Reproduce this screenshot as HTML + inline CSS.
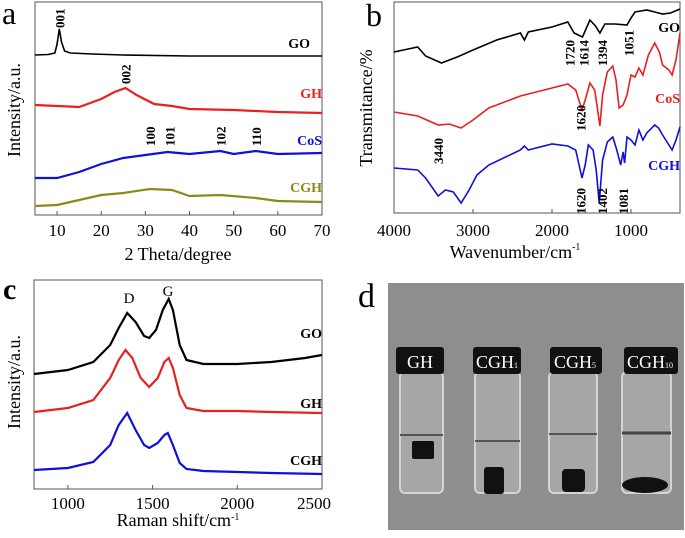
<!DOCTYPE html>
<html><head><meta charset="utf-8"><style>
html,body{margin:0;padding:0;background:#fff}
svg{display:block;font-family:"Liberation Serif",serif}
</style></head><body>
<svg id="fig" width="685" height="538" viewBox="0 0 685 538" xmlns="http://www.w3.org/2000/svg">
<g id="pa"></g>
<g id="pb"></g>
<g id="pc"></g>
<g id="pd">
  <rect x="388" y="283" width="296" height="247" fill="#8e8e8e"/>
</g>
</svg>
<script>
// ---------- Panel a data ----------
const aTicks=[10,20,30,40,50,60,70];
const aGO=[[5,55],[8,54.5],[9.5,53],[10,44],[10.5,29],[11,42],[11.7,51],[13,53],[18,54],[25,55],[40,56],[70,56]];
const aGH=[[5,105],[10,106],[15,107],[20,99],[23,92],[25.5,88],[28,95],[32,104],[36,106],[40,109],[50,110],[60,112],[70,113]];
const aCoS=[[5,178],[10,178],[15,172],[20,164],[25,158],[30,155],[35,152],[40,154],[47,151],[50,154],[55,151],[60,154],[70,153]];
const aCGH=[[5,206],[10,205],[15,200],[20,195],[25,193],[31,189],[36,190],[40,196],[47,195],[55,198],[60,201],[70,202]];
// ---------- Panel b data ----------
const bTicks=[4000,3000,2000,1000];
const bGO=[[4000,52],[3700,47],[3600,56],[3400,63],[3200,57],[3000,50],[2700,40],[2400,33],[2350,40],[2300,32],[2000,27],[1800,22],[1720,33],[1614,37],[1520,20],[1450,26],[1394,33],[1330,24],[1200,24],[1051,25],[1000,18],[950,12],[800,10],[700,12],[600,14],[500,13],[380,9]];
const bCoS=[[4000,112],[3700,116],[3440,125],[3300,124],[3150,128],[3000,120],[2800,108],[2400,96],[2000,88],[1800,84],[1700,90],[1620,110],[1580,100],[1520,83],[1460,90],[1440,100],[1394,126],[1360,95],[1300,72],[1230,66],[1190,80],[1150,108],[1100,105],[1050,95],[1000,75],[950,77],[900,68],[850,75],[780,55],[700,43],[640,52],[600,65],[520,70],[480,75],[430,60],[380,33]];
const bCGH=[[4000,168],[3700,170],[3600,178],[3440,196],[3350,190],[3250,192],[3150,203],[3050,190],[2950,175],[2800,165],[2400,150],[2350,146],[2300,150],[2000,144],[1800,146],[1700,150],[1620,178],[1580,165],[1540,145],[1480,150],[1440,170],[1402,203],[1360,160],[1300,142],[1230,137],[1180,150],[1130,165],[1100,152],[1081,163],[1050,137],[1000,140],[950,145],[900,130],[850,140],[800,133],[700,125],[650,128],[600,135],[520,145],[480,150],[430,140],[380,127]];
// ---------- Panel c data ----------
const cTicks=[1000,1500,2000,2500];
const cGO=[[800,374],[1000,370],[1150,362],[1250,345],[1300,328],[1350,313],[1400,322],[1450,336],[1480,338],[1520,330],[1560,310],[1595,299],[1620,310],[1660,345],[1700,360],[1800,364],[2000,364],[2200,362],[2400,358],[2500,355]];
const cGH=[[800,412],[1000,408],[1150,400],[1250,378],[1300,360],[1340,350],[1380,358],[1430,378],[1480,387],[1530,378],[1570,362],[1595,358],[1620,368],[1660,395],[1700,408],[1800,411],[2000,411],[2200,412],[2500,413]];
const cCGH=[[800,470],[1000,468],[1150,462],[1250,445],[1300,425],[1350,413],[1400,430],[1450,445],[1480,448],[1530,443],[1570,435],[1590,433],[1620,445],[1660,463],[1700,469],[1800,471],[2000,472],[2200,473],[2500,474]];

const NS="http://www.w3.org/2000/svg";
function mk(parent,tag,attrs,text){const e=document.createElementNS(NS,tag);for(const k in attrs)e.setAttribute(k,attrs[k]);if(text!==undefined)e.textContent=text;parent.appendChild(e);return e;}
function pathD(pts,xf){return pts.map((p,i)=>(i?'L':'M')+xf(p[0]).toFixed(1)+','+p[1]).join('');}

// panel a
const ax=v=>35+(v-5)*287/65;
const pa=document.getElementById('pa');
let r=mk(pa,'rect',{x:35,y:2,width:287,height:213,fill:'none',stroke:'#555','stroke-width':1});


[[aGO,'#000','GO',43,310],[aGH,'#e8211f','GH',93,322],[aCoS,'#1010d8','CoS',140,322],[aCGH,'#8a8a1a','CGH',187,322]].forEach(s=>{
 let p=mk(pa,'path',{d:pathD(s[0],ax),fill:'none',stroke:s[1],'stroke-width':s[2]=='GO'?1.6:2.2});
 
 
 let t=mk(pa,'text',{x:s[4],y:s[3]+5,'text-anchor':'end','font-size':14,'font-weight':'bold',fill:s[1]},s[2]);
 
 
});
aTicks.forEach(v=>{
 let l=mk(pa,'line',{x1:ax(v),x2:ax(v),y1:215,y2:211,stroke:'#555'});
 
 
 let t=mk(pa,'text',{x:ax(v),y:236,'text-anchor':'middle','font-size':17},v);
 
 
});
[['001',10.5,28],['002',25.5,84],['100',31,146],['101',35.5,146],['102',47,146],['110',55,146]].forEach(pk=>{
 let t=mk(pa,'text',{x:0,y:0,transform:`translate(${ax(pk[1])+5},${pk[2]}) rotate(-90)`,'font-size':13,'font-weight':'bold'},pk[0]);
 
 
});
// panel b
const bx=v=>394+(4000-v)*0.079;
const pb=document.getElementById('pb');
r=mk(pb,'rect',{x:394,y:2,width:286,height:211,fill:'none',stroke:'#555','stroke-width':1});


[[bGO,'#000','GO',27],[bCoS,'#e8211f','CoS',98],[bCGH,'#1010d8','CGH',165]].forEach(s=>{
 let p=mk(pb,'path',{d:pathD(s[0],bx),fill:'none',stroke:s[1],'stroke-width':1.6});
 
 
 let t=mk(pb,'text',{x:680,y:s[3]+5,'text-anchor':'end','font-size':14,'font-weight':'bold',fill:s[1]},s[2]);
 
 
});
bTicks.forEach(v=>{
 let l=mk(pb,'line',{x1:bx(v),x2:bx(v),y1:213,y2:209,stroke:'#555'});
 
 
 let t=mk(pb,'text',{x:bx(v),y:236,'text-anchor':'middle','font-size':17},v);
 
 
});
[['1720',1780,66],['1614',1600,66],['1394',1370,66],['1051',1030,56],['1620',1640,131],['3440',3440,164],['1620',1640,214],['1402',1370,214],['1081',1100,214]].forEach(pk=>{
 let t=mk(pb,'text',{x:0,y:0,transform:`translate(${bx(pk[1])+5},${pk[2]}) rotate(-90)`,'font-size':13,'font-weight':'bold'},pk[0]);
 
 
});
// panel c
const cx=v=>34+(v-800)*288/1700;
const pc=document.getElementById('pc');
r=mk(pc,'rect',{x:34,y:280,width:288,height:209,fill:'none',stroke:'#555','stroke-width':1});


[[cGO,'#000','GO',333],[cGH,'#e8211f','GH',403],[cCGH,'#1010d8','CGH',460]].forEach(s=>{
 let p=mk(pc,'path',{d:pathD(s[0],cx),fill:'none',stroke:s[1],'stroke-width':2.2});
 
 
 let t=mk(pc,'text',{x:322,y:s[3]+5,'text-anchor':'end','font-size':14,'font-weight':'bold',fill:'#000'},s[2]);
 
 
});
cTicks.forEach(v=>{
 let l=mk(pc,'line',{x1:cx(v),x2:cx(v),y1:489,y2:485,stroke:'#555'});
 
 
 let t=mk(pc,'text',{x:cx(v)-(v==2500?8:0),y:509,'text-anchor':'middle','font-size':17},v);
 
 
});
</script>
<svg width="685" height="538" viewBox="0 0 685 538" style="position:absolute;left:0;top:0" xmlns="http://www.w3.org/2000/svg">
<g font-family="Liberation Serif, serif">
<text x="2" y="24" font-size="32">a</text>
<text x="178" y="260" font-size="18" text-anchor="middle">2 Theta/degree</text>
<text transform="translate(20,110) rotate(-90)" font-size="18" text-anchor="middle">Intensity/a.u.</text>
<text x="366" y="26" font-size="32">b</text>
<text x="515" y="258" font-size="18" text-anchor="middle">Wavenumber/cm<tspan font-size="10" dy="-8">-1</tspan></text>
<text transform="translate(372,108) rotate(-90)" font-size="18" text-anchor="middle">Transmitance/%</text>
<text x="3" y="299" font-size="30" font-weight="bold">c</text>
<text x="129" y="303" font-size="15" text-anchor="middle">D</text>
<text x="168" y="296" font-size="15" text-anchor="middle">G</text>
<text x="178" y="526" font-size="18" text-anchor="middle">Raman shift/cm<tspan font-size="10" dy="-6">-1</tspan></text>
<text transform="translate(20,382) rotate(-90)" font-size="18" text-anchor="middle">Intensity/a.u.</text>
<text x="358" y="307" font-size="34">d</text>
</g>
<g font-family="Liberation Serif, serif">
 <g>
  <rect x="400" y="372" width="43" height="121" rx="5" fill="#a6a6a6" stroke="#d4d4d4" stroke-width="2"/>
  <line x1="400" y1="435" x2="443" y2="435" stroke="#555" stroke-width="2"/>
  <rect x="412" y="441" width="22" height="18" rx="2" fill="#111"/>
  <rect x="396" y="347" width="48" height="27" rx="3" fill="#111"/>
  <text x="420" y="368" font-size="18" fill="#fff" text-anchor="middle">GH</text>
 </g>
 <g>
  <rect x="475" y="372" width="45" height="121" rx="5" fill="#a6a6a6" stroke="#d4d4d4" stroke-width="2"/>
  <line x1="475" y1="441" x2="520" y2="441" stroke="#555" stroke-width="2"/>
  <rect x="484" y="467" width="20" height="27" rx="3" fill="#111"/>
  <rect x="473" y="347" width="48" height="27" rx="3" fill="#111"/>
  <text x="497" y="368" font-size="18" fill="#fff" text-anchor="middle">CGH<tspan font-size="8">1</tspan></text>
 </g>
 <g>
  <rect x="549" y="372" width="48" height="121" rx="5" fill="#a6a6a6" stroke="#d4d4d4" stroke-width="2"/>
  <line x1="549" y1="434" x2="597" y2="434" stroke="#555" stroke-width="2"/>
  <rect x="562" y="469" width="23" height="23" rx="4" fill="#111"/>
  <rect x="550" y="347" width="52" height="27" rx="3" fill="#111"/>
  <text x="575" y="368" font-size="18" fill="#fff" text-anchor="middle">CGH<tspan font-size="8">5</tspan></text>
 </g>
 <g>
  <rect x="622" y="372" width="49" height="121" rx="5" fill="#a6a6a6" stroke="#d4d4d4" stroke-width="2"/>
  <line x1="622" y1="433" x2="671" y2="433" stroke="#444" stroke-width="3"/>
  <ellipse cx="645" cy="485" rx="23" ry="8" fill="#111"/>
  <rect x="624" y="347" width="54" height="27" rx="3" fill="#111"/>
  <text x="650" y="368" font-size="18" fill="#fff" text-anchor="middle">CGH<tspan font-size="8">10</tspan></text>
 </g>
</g>
</svg>
</body></html>
